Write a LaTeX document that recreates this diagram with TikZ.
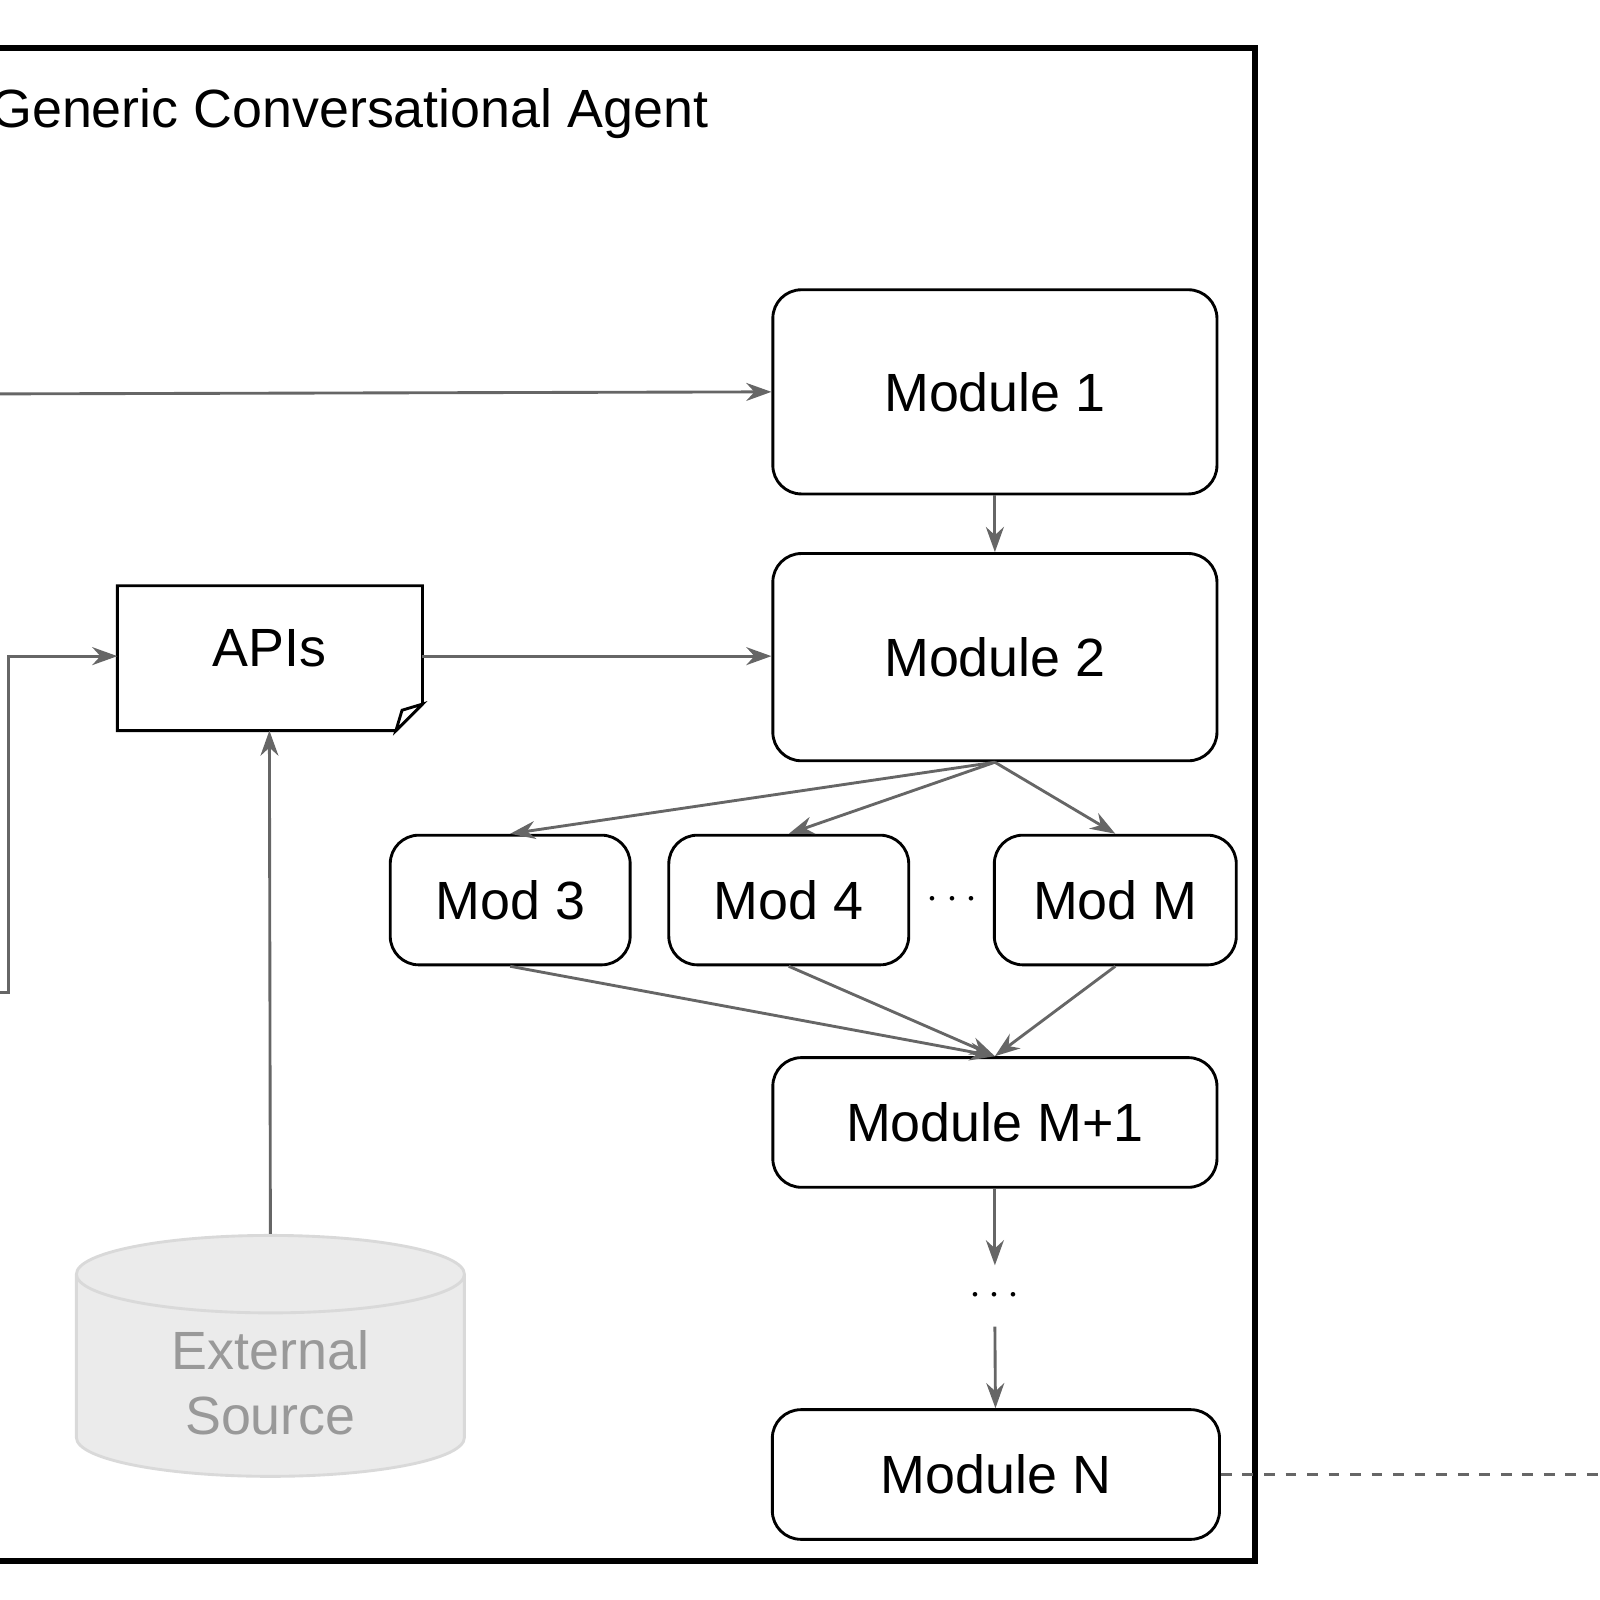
\documentclass[tikz,border=0pt]{standalone}
\usepackage{fontspec}
\setmainfont{Liberation Sans}
\usetikzlibrary{shapes.geometric, arrows.meta, positioning}
\tikzset{
  module/.style = {rectangle, rounded corners=0.28cm, draw=black, thick, text centered, font=\fontsize{15}{18}\selectfont},
  arrow/.style = {draw=black!60, thick, -{Stealth[length=7pt,width=5pt]}},
  line/.style = {draw=black!60, thick},
}
\begin{document}
\begin{tikzpicture}[x=0.01cm, y=-0.01cm]

% outer agent box
\draw[line width=1.6pt] (-20,47) rectangle (1230,1530);
\node[anchor=base west, font=\fontsize{15}{18}\selectfont] (title) at (-22,125) {Generic Conversational Agent};

% main chain
\node (mod1) [module, minimum width=4.35cm, minimum height=2cm] at (975,384) {Module 1};
\node (mod2) [module, minimum width=4.35cm, minimum height=2.03cm] at (975,644) {Module 2};
\node (mod3) [module, minimum width=2.35cm, minimum height=1.27cm] at (500,882) {Mod 3};
\node (mod4) [module, minimum width=2.35cm, minimum height=1.27cm] at (773,882) {Mod 4};
\node (dots1) [font=\fontsize{12}{14}\selectfont] at (933,882) {$\cdots$};
\node (modM) [module, minimum width=2.37cm, minimum height=1.27cm] at (1093,882) {Mod M};
\node (modM1) [module, minimum width=4.35cm, minimum height=1.27cm] at (975,1100) {Module M+1};
\node (dots2) [font=\fontsize{12}{14}\selectfont] at (975,1270) {$\cdots$};
\node (modN) [module, minimum width=4.38cm, minimum height=1.27cm] at (976,1445) {Module N};

% APIs document
\node (apis) [rectangle, minimum width=2.99cm, minimum height=1.42cm, font=\fontsize{15}{18}\selectfont] at (264,635) {APIs};
\draw[thick] (115,574) -- (414,574) -- (414,690) -- (388,716) -- (115,716) -- cycle;
\draw[thick, fill=white] (414,690) -- (394,696) -- (388,716) -- cycle;

% external source
\node (ext) [cylinder, shape border rotate=90, aspect=0.35, draw=black!15, fill=black!8, thick, minimum width=3.8cm, minimum height=2.36cm, text=black!40, align=center, font=\fontsize{15}{18}\selectfont] at (265,1355) {External\\Source};

% input coordinates
\coordinate (in1) at (0,386);
\coordinate (in2) at (-20,973);
\coordinate (bend) at (8,973);
\coordinate (out) at (1600,1445);

\draw [arrow] (in1) -- (mod1.west);
\draw [arrow] (in2) -- (bend) |- (115,643);
\draw [arrow] (414,643) -- (mod2.west |- 0,643);
\draw [arrow] (mod1) -- (mod2);
\draw [arrow] (mod2.south) -- (mod3.north);
\draw [arrow] (mod2.south) -- (mod4.north);
\draw [arrow] (mod2.south) -- (modM.north);
\draw [arrow] (mod3.south) -- (modM1.north);
\draw [arrow] (mod4.south) -- (modM1.north);
\draw [arrow] (modM.south) -- (modM1.north);
\draw [arrow] (modM1) -- (975,1240);
\draw [arrow] (975,1300) -- (modN);
\draw [arrow] (ext.north) -- (264,716);
\draw [line, dashed] (modN.east) -- (out);

\pgfresetboundingbox
\useasboundingbox (0,0) rectangle (1568,1568);
\end{tikzpicture}
\end{document}
